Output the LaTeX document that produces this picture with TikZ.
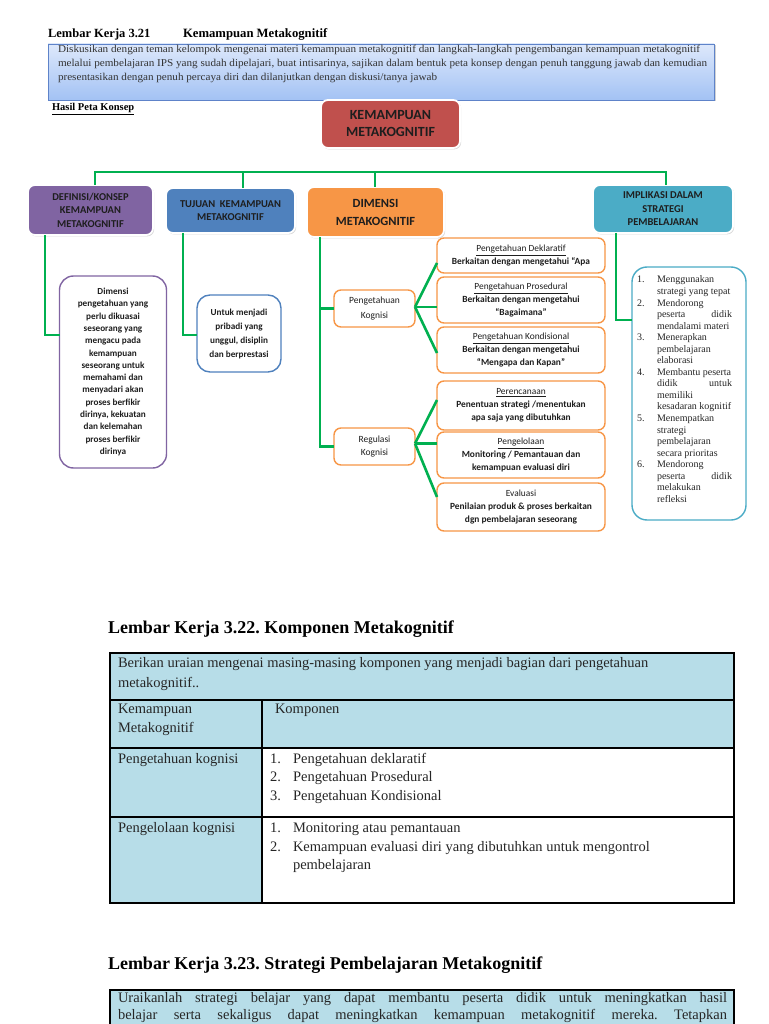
\documentclass[tikz,border=0pt]{standalone}
\usepackage{fontspec}
\usepackage{graphicx}
\setmainfont{Liberation Serif}
\newfontfamily\carl{Carlito}
\usetikzlibrary{shadows}
\frenchspacing
\newcommand\fsz[2]{\fontsize{#1}{#2}\selectfont}
\definecolor{kemred}{HTML}{C0504D}
\definecolor{defpurple}{HTML}{8064A2}
\definecolor{tujblue}{HTML}{4F81BD}
\definecolor{dimorange}{HTML}{F79646}
\definecolor{impteal}{HTML}{4BACC6}
\definecolor{conngreen}{HTML}{00B050}
\definecolor{tabblue}{HTML}{B7DDE8}
\definecolor{txtdark}{HTML}{1E1E1E}
\definecolor{instrtop}{HTML}{DDE8FB}
\definecolor{instrbot}{HTML}{A3C2F4}
\definecolor{instrline}{HTML}{5E83C9}
\begin{document}
\begin{tikzpicture}[x=1pt,y=-1pt,
 conn/.style={draw=conngreen, line width=2.6pt},
 hdr/.style={draw=white, line width=1.8pt, rounded corners=7pt, inner sep=0pt, outer sep=0pt, align=center, text=txtdark, drop shadow={shadow xshift=1.2pt, shadow yshift=-1.4pt, opacity=.3}},
 leaf/.style={draw, fill=white, line width=1.4pt, inner sep=0pt, outer sep=0pt, align=center, text=txtdark},
 plain/.style={inner sep=0pt, outer sep=0pt},
 tline/.style={draw=black, line width=1.6pt}
]
\useasboundingbox (0,0) rectangle (768,1024);
\clip (0,0) rectangle (768,1024);
\fill[white] (0,0) rectangle (768,1024);

% ---------- header ----------
\node[plain, anchor=base west] (t1) at (48,37.5) {\bfseries\fsz{12.5}{14}Lembar Kerja 3.21};
\node[plain, anchor=base west] (t2) at (183,37.5) {\bfseries\fsz{12.7}{14}Kemampuan Metakognitif};

\node[draw=instrline, line width=0.8pt, top color=instrtop, bottom color=instrbot, minimum width=666pt, minimum height=56pt, inner sep=0pt, drop shadow={shadow xshift=1.5pt, shadow yshift=-1.5pt, opacity=.35}] (instr) at (381,72) {};
\node[plain, anchor=base west, text=black!80] (p1) at (58,52.5) {\fsz{10.5}{12}\resizebox{642pt}{\height}{Diskusikan dengan teman kelompok mengenai materi kemampuan metakognitif dan langkah-langkah pengembangan kemampuan metakognitif}};
\node[plain, anchor=base west, text=black!80] (p2) at (58,66.5) {\fsz{10.5}{12}\resizebox{649pt}{\height}{melalui pembelajaran IPS yang sudah dipelajari, buat intisarinya, sajikan dalam bentuk peta konsep dengan penuh tanggung jawab dan kemudian}};
\node[plain, anchor=base west, text=black!80] (p3) at (58,80.5) {\fsz{10.5}{12}\resizebox{379pt}{\height}{presentasikan dengan penuh percaya diri dan dilanjutkan dengan diskusi/tanya jawab}};

\node[plain, anchor=base west] (hasil) at (52,110.5) {\bfseries\fsz{10.5}{12}\underline{Hasil Peta Konsep}};

% ---------- concept map ----------
\node[hdr, fill=kemred, minimum width=139pt, minimum height=48pt, font=\carl\bfseries\fsz{14}{17}] (kem) at (390.5,124) {KEMAMPUAN\\METAKOGNITIF};

\node[hdr, fill=defpurple, minimum width=125pt, minimum height=50pt, font=\carl\bfseries\fsz{10.5}{13.5}] (def) at (90.5,210) {DEFINISI/KONSEP\\KEMAMPUAN\\METAKOGNITIF};
\node[hdr, fill=tujblue, minimum width=129pt, minimum height=45pt, font=\carl\bfseries\fsz{10.5}{13.5}] (tuj) at (230.5,210.5) {TUJUAN\ \ KEMAMPUAN\\METAKOGNITIF};
\node[hdr, fill=dimorange, minimum width=137pt, minimum height=50pt, font=\carl\bfseries\fsz{12.5}{18}] (dim) at (375.5,212) {DIMENSI\\METAKOGNITIF};
\node[hdr, fill=impteal, minimum width=140pt, minimum height=48pt, font=\carl\bfseries\fsz{10.5}{13.5}] (imp) at (663,209) {IMPLIKASI DALAM\\STRATEGI\\PEMBELAJARAN};

\node[leaf, draw=defpurple, rounded corners=14pt, minimum width=107pt, minimum height=192pt, font=\carl\bfseries\fsz{9.2}{12.3}] (deftxt) at (113,372) {Dimensi\\pengetahuan yang\\perlu dikuasai\\seseorang yang\\mengacu pada\\kemampuan\\seseorang untuk\\memahami dan\\menyadari akan\\proses berfikir\\dirinya, kekuatan\\dan kelemahan\\proses berfikir\\dirinya};
\node[leaf, draw=tujblue, rounded corners=13pt, minimum width=84pt, minimum height=77pt, font=\carl\bfseries\fsz{9.2}{14}] (untuk) at (239,333.5) {Untuk menjadi\\pribadi yang\\unggul, disiplin\\dan berprestasi};

\node[leaf, draw=dimorange, rounded corners=7pt, minimum width=81pt, minimum height=37pt, font=\carl\fsz{9.5}{15}] (pk) at (374.5,308.5) {Pengetahuan\\Kognisi};
\node[leaf, draw=dimorange, rounded corners=7pt, minimum width=81pt, minimum height=37pt, font=\carl\fsz{9.5}{13}] (rk) at (374.5,446.5) {Regulasi\\Kognisi};

\node[leaf, draw=dimorange, rounded corners=7pt, minimum width=168pt, minimum height=35pt, font=\carl\fsz{9.4}{12.3}] (dek) at (521,255.5) {\underline{Pengetahuan Deklaratif}\\\textbf{Berkaitan dengan mengetahui “Apa}};
\node[leaf, draw=dimorange, rounded corners=7pt, minimum width=168pt, minimum height=46pt, font=\carl\fsz{9.4}{12.7}] (pro) at (521,300) {\underline{Pengetahuan Prosedural}\\\textbf{Berkaitan dengan mengetahui}\\\textbf{“Bagaimana”}};
\node[leaf, draw=dimorange, rounded corners=7pt, minimum width=168pt, minimum height=46pt, font=\carl\fsz{9.4}{12.7}] (kon) at (521,350) {\underline{Pengetahuan Kondisional}\\\textbf{Berkaitan dengan mengetahui}\\\textbf{“Mengapa dan Kapan”}};
\node[leaf, draw=dimorange, rounded corners=7pt, minimum width=168pt, minimum height=49pt, font=\carl\fsz{9.4}{13}] (per) at (521,405.5) {\underline{Perencanaan}\\\textbf{Penentuan strategi /menentukan}\\\textbf{apa saja yang dibutuhkan}};
\node[leaf, draw=dimorange, rounded corners=7pt, minimum width=168pt, minimum height=46pt, font=\carl\fsz{9.4}{12.7}] (pen) at (521,455) {\underline{Pengelolaan}\\\textbf{Monitoring / Pemantauan dan}\\\textbf{kemampuan evaluasi diri}};
\node[leaf, draw=dimorange, rounded corners=7pt, minimum width=168pt, minimum height=48pt, font=\carl\fsz{9.4}{13}] (eva) at (521,507) {Evaluasi\\\textbf{Penilaian produk \& proses berkaitan}\\\textbf{dgn pembelajaran seseorang}};

\node[leaf, draw=impteal, rounded corners=15pt, minimum width=114pt, minimum height=253pt] (list) at (689,393.5) {};
\node[plain, anchor=north west, align=left, font=\fsz{10}{11.55}, text=black!85] (listtxt) at (637,276) {%
\makebox[20pt][l]{1.}Menggunakan\\
\hspace*{20pt}strategi yang tepat\\
\makebox[20pt][l]{2.}Mendorong\\
\hspace*{20pt}\makebox[75pt][s]{peserta didik}\\
\hspace*{20pt}mendalami materi\\
\makebox[20pt][l]{3.}Menerapkan\\
\hspace*{20pt}pembelajaran\\
\hspace*{20pt}elaborasi\\
\makebox[20pt][l]{4.}Membantu peserta\\
\hspace*{20pt}\makebox[75pt][s]{didik untuk}\\
\hspace*{20pt}memiliki\\
\hspace*{20pt}kesadaran kognitif\\
\makebox[20pt][l]{5.}Menempatkan\\
\hspace*{20pt}strategi\\
\hspace*{20pt}pembelajaran\\
\hspace*{20pt}secara prioritas\\
\makebox[20pt][l]{6.}Mendorong\\
\hspace*{20pt}\makebox[75pt][s]{peserta didik}\\
\hspace*{20pt}melakukan\\
\hspace*{20pt}refleksi};

% ---------- connectors ----------
\coordinate (busL) at (95,172);
\coordinate (busR) at (666,172);
\coordinate (vT) at (243,172);
\coordinate (vD) at (375,172);
\draw[conn] (def.north -| busL) -- (busL) -- (busR) -- (imp.north -| busR);
\draw[conn] (vT) -- (tuj.north -| vT);
\draw[conn] (vD) -- (dim.north -| vD);

\coordinate (jD) at (45,335);
\coordinate (jT) at (183,335);
\coordinate (jM) at (320,448);
\coordinate (jI) at (616,320);
\draw[conn] (def.south -| jD) |- (deftxt.west |- jD);
\draw[conn] (tuj.south -| jT) |- (untuk.west |- jT);
\draw[conn] (dim.south -| jM) |- (rk.west);
\draw[conn] (pk.west -| jM) -- (pk.west);
\draw[conn] (imp.south -| jI) |- (list.west |- jI);

\coordinate (pkO) at ([yshift=1.5pt]pk.east);
\coordinate (rkO) at ([yshift=3pt]rk.east);
\draw[conn] (pkO) -- ([yshift=-7.5pt]dek.west);
\draw[conn] (pkO) -- (pkO -| pro.west);
\draw[conn] (pkO) -- ([yshift=-3pt]kon.west);
\draw[conn] (rkO) -- ([yshift=5.5pt]per.west);
\draw[conn] (rkO) -- (rkO -| pen.west);
\draw[conn] (rkO) -- ([yshift=10pt]eva.west);

% ---------- Lembar Kerja 3.22 ----------
\node[plain, anchor=base west] (t322) at (108,633.5) {\bfseries\fsz{18}{20}Lembar Kerja 3.22. Komponen Metakognitif};
\fill[tabblue] (110,653) rectangle (734,748);
\fill[tabblue] (110,748) rectangle (262,903);
\draw[tline] (110,653) rectangle (734,903);
\draw[tline] (110,700) -- (734,700);
\draw[tline] (110,748) -- (734,748);
\draw[tline] (110,817) -- (734,817);
\draw[tline] (262,700) -- (262,903);

\begin{scope}[every node/.style={plain, anchor=base west, font=\fsz{14.5}{16}, text=black!85}]
\node (r1a) at (118,667) {Berikan uraian mengenai masing-masing komponen yang menjadi bagian dari pengetahuan};
\node (r1b) at (118,687) {metakognitif..};
\node (r2a) at (118,713) {Kemampuan};
\node (r2b) at (118,732) {Metakognitif};
\node (r2c) at (275,713) {Komponen};
\node (r3a) at (118,763) {Pengetahuan kognisi};
\node (r3n1) at (270,763) {1.};
\node (r3i1) at (293,763) {Pengetahuan deklaratif};
\node (r3n2) at (270,781.5) {2.};
\node (r3i2) at (293,781.5) {Pengetahuan Prosedural};
\node (r3n3) at (270,800) {3.};
\node (r3i3) at (293,800) {Pengetahuan Kondisional};
\node (r4a) at (118,832) {Pengelolaan kognisi};
\node (r4n1) at (270,832) {1.};
\node (r4i1) at (293,832) {Monitoring atau pemantauan};
\node (r4n2) at (270,851) {2.};
\node (r4i2) at (293,851) {Kemampuan evaluasi diri yang dibutuhkan untuk mengontrol};
\node (r4i3) at (293,869.5) {pembelajaran};
\end{scope}

% ---------- Lembar Kerja 3.23 ----------
\node[plain, anchor=base west] (t323) at (108,969.5) {\bfseries\fsz{18}{20}Lembar Kerja 3.23. Strategi Pembelajaran Metakognitif};
\fill[tabblue] (110,990) rectangle (734,1040);
\draw[tline] (110,990) rectangle (734,1040);
\node[plain, anchor=base west, font=\fsz{14.5}{16}, text=black!85] (b1) at (118,1002) {\makebox[609pt][s]{Uraikanlah strategi belajar yang dapat membantu peserta didik untuk meningkatkan hasil}};
\node[plain, anchor=base west, font=\fsz{14.5}{16}, text=black!85] (b2) at (118,1019.5) {\makebox[609pt][s]{belajar serta sekaligus dapat meningkatkan kemampuan metakognitif mereka. Tetapkan}};
\end{tikzpicture}
\end{document}
